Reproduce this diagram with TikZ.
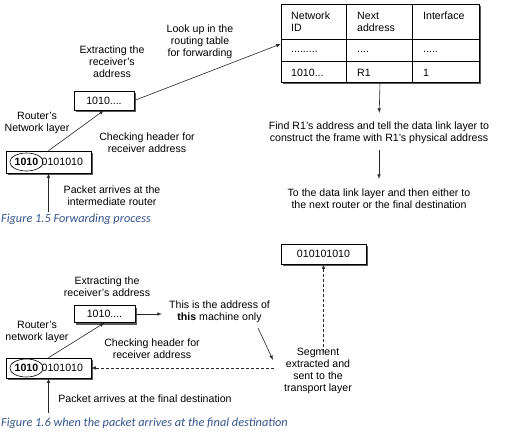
\documentclass[tikz,border=0pt]{standalone}
\usepackage{fontspec}
\setmainfont{Liberation Sans}
\newfontfamily\capfont{Carlito}
\usepackage{tikz}
\usetikzlibrary{shapes,arrows,shadows,positioning,calc}
\definecolor{capblue}{RGB}{52,84,140}

\begin{document}
\begin{tikzpicture}[x=1pt,y=-1pt,>=latex,
    every node/.style={font=\fontsize{10.6}{12}\selectfont,inner sep=0pt},
    txt/.style={align=center},
    cell/.style={anchor=base west},
    pbox/.style={draw,fill=white,line width=0.6pt,
      drop shadow={shadow xshift=2pt,shadow yshift=-2pt,fill=black!65,opacity=1}},
    link/.style={->,line width=0.6pt,draw=black!85},
    figcap/.style={anchor=west,font=\capfont\itshape\fontsize{12.3}{14}\selectfont,text=capblue}]
      \useasboundingbox (0,0) rectangle (518,437);

      \coordinate (A) at (200,42);
      \coordinate (B) at (112,62);
      \coordinate (C) at (104,100.5);
      \coordinate (D) at (37,122.5);
      \coordinate (E) at (147,142.5);
      \coordinate (F) at (48.5,162);
      \coordinate (G) at (112,196);
      \coordinate (H) at (48.5,212);
      \coordinate (I) at (380,43);
      \coordinate (J) at (379,133);
      \coordinate (K) at (379,199);

      \node[txt] (lk) at (A) {Look up in the\\routing table\\for forwarding};
      \node[txt] (ex) at (B) {Extracting the\\receiver’s\\address};
      \node[pbox,minimum width=60,minimum height=19] (ad) at (C) {1010....};
      \node[txt] (rt) at (D) {Router’s\\Network layer};
      \node[txt] (ck) at (E) {Checking header for\\receiver address};
      \node[pbox,minimum width=85,minimum height=22] (pk) at (F) {};
      \node[draw,ellipse,line width=0.6pt,minimum width=30,minimum height=18] (el) at (26.5,162) {\textbf{1010}};
      \node[anchor=west] (rs) at (41.5,162) {0101010};
      \node[txt] (pa) at (G) {Packet arrives at the\\intermediate router};
      \node[pbox,minimum width=198,minimum height=78] (tb) at (I) {};
      \node[txt] (fd) at (J) {Find R1’s address and tell the data link layer to\\construct the frame with R1’s physical address};
      \node[txt] (to) at (K) {To the data link layer and then either to\\the next router or the final destination};
      \node[figcap] (c1) at (1,219) {Figure 1.5 Forwarding process};

      \draw[line width=0.6pt] (281,39) -- (479,39) (281,61) -- (479,61)
        (346,4) -- (346,82) (412,4) -- (412,82);
      \node[anchor=north west,align=left] (h1) at (291,12) {Network\\ID};
      \node[anchor=north west,align=left] (h2) at (357,12) {Next\\address};
      \node[anchor=north west] (h3) at (423,12) {Interface};
      \node[cell] (d1) at (291,52) {.........};
      \node[cell] (d2) at (357,52) {....};
      \node[cell] (d3) at (423,52) {.....};
      \node[cell] (r1) at (291,76) {1010...};
      \node[cell] (r2) at (357,76) {R1};
      \node[cell] (r3) at (423,76) {1};

      \draw[link] (H) -- (pk.south);
      \draw[link] (pk.north) -- (ad.south);
      \draw[link] (ad.east) -- ([yshift=-1pt]tb.west);
      \draw[link,shorten >=9pt] (tb.south) -- (fd.north);
      \draw[link,shorten <=6pt,shorten >=10pt] (fd.south) -- (to.north);

      \coordinate (L) at (107,286.5);
      \coordinate (M) at (104.5,314);
      \coordinate (N) at (219.5,311.5);
      \coordinate (O) at (37,332);
      \coordinate (P) at (152,349);
      \coordinate (Q) at (48.5,368);
      \coordinate (R) at (145,399);
      \coordinate (S) at (48.5,413);
      \coordinate (T) at (273,360);
      \coordinate (U) at (274,368);
      \coordinate (V) at (323.5,254);
      \coordinate (W) at (318,371);

      \node[txt] (ex2) at (L) {Extracting the\\receiver’s address};
      \node[pbox,minimum width=61,minimum height=17] (ad2) at (M) {1010....};
      \node[txt] (th) at (N) {This is the address of\\\textbf{this} machine only};
      \node[txt] (rt2) at (O) {Router’s\\network layer};
      \node[txt] (ck2) at (P) {Checking header for\\receiver address};
      \node[pbox,minimum width=85,minimum height=20] (pk2) at (Q) {};
      \node[draw,ellipse,line width=0.6pt,minimum width=30,minimum height=18] (el2) at (26.5,368) {\textbf{1010}};
      \node[anchor=west] (rs2) at (41.5,368) {0101010};
      \node[txt] (pa2) at (R) {Packet arrives at the final destination};
      \node[pbox,minimum width=85,minimum height=20] (sg) at (V) {010101010};
      \node[txt] (tr) at (W) {Segment\\extracted and\\sent to the\\transport layer};
      \node[figcap] (c2) at (1,423) {Figure 1.6 when the packet arrives at the final destination};

      \draw[link] (S) -- (pk2.south);
      \draw[link] (pk2.north) -- (ad2.south);
      \draw[link,shorten >=7pt] (ad2.east) -- (ad2.east -| th.west);
      \draw[link] ([xshift=-12pt,yshift=-5.5pt]th.south east) -- (T);
      \draw[link,dash pattern=on 3pt off 2pt] (U) -- (pk2.east);
      \draw[link,dash pattern=on 3pt off 2pt,shorten <=-4pt] (sg.south |- tr.north) -- (sg.south);

    \end{tikzpicture}
\end{document}
